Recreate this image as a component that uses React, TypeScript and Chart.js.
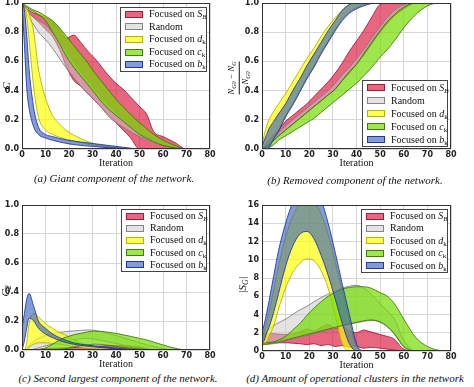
import React, { useEffect, useRef } from 'react';
import { Chart, registerables } from 'chart.js';
Chart.register(...registerables);

// ---------- data ----------
const ITER = [0, 1, 2, 3, 5, 7, 10, 13, 16, 19, 22, 25, 28, 31, 34, 37, 40, 43, 46, 50, 53, 56, 60, 65, 70, 75, 80];
const SERIES_LABELS = ['S_B', 'Random', 'd_k', 'c_k', 'b_k'];
const X_TICK_STEP = 10;

// (a) giant component C
const aRedHi = [1.0, 0.98, 0.96, 0.95, 0.93, 0.92, 0.9, 0.87, 0.82, 0.76, 0.78, 0.73, 0.67, 0.62, 0.56, 0.5, 0.45, 0.41, 0.36, 0.29, 0.24, 0.12, 0.085, 0.045, 0, 0, 0];
const aRedLo = [1.0, 0.97, 0.95, 0.93, 0.9, 0.87, 0.82, 0.77, 0.68, 0.56, 0.47, 0.43, 0.38, 0.33, 0.28, 0.23, 0.18, 0.13, 0.08, 0, 0, 0, 0, 0, 0, 0, 0];
const aGrayHi = [1.0, 0.97, 0.95, 0.93, 0.9, 0.88, 0.85, 0.8, 0.74, 0.67, 0.6, 0.53, 0.47, 0.41, 0.35, 0.3, 0.25, 0.2, 0.16, 0.11, 0.085, 0.06, 0.035, 0.012, 0, 0, 0];
const aGrayLo = [1.0, 0.96, 0.93, 0.9, 0.85, 0.8, 0.75, 0.69, 0.62, 0.55, 0.49, 0.43, 0.38, 0.33, 0.28, 0.22, 0.18, 0.15, 0.12, 0.085, 0.065, 0.045, 0.025, 0.008, 0, 0, 0];
const aYellowHi = [1.0, 0.98, 0.96, 0.93, 0.8, 0.55, 0.35, 0.23, 0.17, 0.125, 0.095, 0.07, 0.05, 0.035, 0.024, 0.016, 0.01, 0.005, 0.002, 0, 0, 0, 0, 0, 0, 0, 0];
const aYellowLo = [1.0, 0.97, 0.9, 0.75, 0.42, 0.22, 0.13, 0.1, 0.08, 0.065, 0.055, 0.045, 0.035, 0.026, 0.018, 0.011, 0.005, 0.002, 0, 0, 0, 0, 0, 0, 0, 0, 0];
const aGreenHi = [1.0, 0.99, 0.98, 0.97, 0.95, 0.94, 0.91, 0.88, 0.83, 0.77, 0.71, 0.65, 0.59, 0.52, 0.46, 0.4, 0.34, 0.29, 0.24, 0.18, 0.14, 0.1, 0.06, 0.025, 0, 0, 0];
const aGreenLo = [1.0, 0.98, 0.97, 0.96, 0.94, 0.92, 0.88, 0.8, 0.72, 0.63, 0.56, 0.5, 0.44, 0.38, 0.32, 0.27, 0.23, 0.19, 0.15, 0.1, 0.075, 0.05, 0.025, 0.008, 0, 0, 0];
const aBlueHi = [1.0, 0.95, 0.78, 0.55, 0.28, 0.15, 0.1, 0.085, 0.072, 0.062, 0.054, 0.048, 0.042, 0.036, 0.03, 0.024, 0.018, 0.012, 0.006, 0, 0, 0, 0, 0, 0, 0, 0];
const aBlueLo = [1.0, 0.72, 0.42, 0.28, 0.15, 0.1, 0.075, 0.06, 0.048, 0.038, 0.03, 0.025, 0.02, 0.016, 0.012, 0.009, 0.006, 0.004, 0.002, 0, 0, 0, 0, 0, 0, 0, 0];

// (b) removed component
const bRedHi = [0, 0.02, 0.04, 0.06, 0.1, 0.13, 0.19, 0.23, 0.27, 0.31, 0.36, 0.41, 0.46, 0.52, 0.59, 0.67, 0.74, 0.81, 0.89, 0.99, 1, 1, 1, 1, 1, 1, 1];
const bRedLo = [0, 0.01, 0.02, 0.03, 0.06, 0.09, 0.13, 0.17, 0.21, 0.25, 0.29, 0.33, 0.37, 0.41, 0.47, 0.52, 0.58, 0.64, 0.71, 0.8, 0.86, 0.91, 0.96, 1, 1, 1, 1];
const bGrayHi = [0, 0.015, 0.03, 0.045, 0.08, 0.11, 0.16, 0.2, 0.24, 0.28, 0.32, 0.36, 0.4, 0.45, 0.51, 0.56, 0.62, 0.68, 0.75, 0.84, 0.9, 0.95, 0.99, 1, 1, 1, 1];
const bGrayLo = [0, 0.01, 0.02, 0.03, 0.06, 0.09, 0.13, 0.17, 0.21, 0.25, 0.29, 0.33, 0.37, 0.41, 0.47, 0.53, 0.58, 0.65, 0.72, 0.81, 0.87, 0.92, 0.97, 1, 1, 1, 1];
const bYellowHi = [0.02, 0.1, 0.16, 0.2, 0.26, 0.31, 0.38, 0.46, 0.54, 0.62, 0.69, 0.77, 0.84, 0.9, 0.95, 0.99, 1, 1, 1, 1, 1, 1, 1, 1, 1, 1, 1];
const bYellowLo = [0, 0, 0, 0.02, 0.08, 0.13, 0.23, 0.31, 0.4, 0.49, 0.57, 0.66, 0.74, 0.82, 0.89, 0.94, 0.97, 0.99, 1, 1, 1, 1, 1, 1, 1, 1, 1];
const bGreenHi = [0, 0.01, 0.02, 0.03, 0.06, 0.09, 0.13, 0.17, 0.21, 0.25, 0.29, 0.33, 0.37, 0.41, 0.47, 0.53, 0.58, 0.65, 0.72, 0.81, 0.87, 0.92, 0.97, 1, 1, 1, 1];
const bGreenLo = [0, 0, 0, 0.01, 0.03, 0.06, 0.09, 0.12, 0.15, 0.18, 0.21, 0.25, 0.29, 0.33, 0.37, 0.41, 0.45, 0.5, 0.55, 0.63, 0.68, 0.74, 0.83, 0.92, 0.98, 1, 1];
const bBlueHi = [0.02, 0.06, 0.1, 0.14, 0.19, 0.24, 0.31, 0.4, 0.48, 0.57, 0.65, 0.73, 0.81, 0.88, 0.95, 0.99, 1, 1, 1, 1, 1, 1, 1, 1, 1, 1, 1];
const bBlueLo = [0, 0, 0, 0.01, 0.07, 0.12, 0.22, 0.3, 0.39, 0.48, 0.56, 0.65, 0.73, 0.81, 0.88, 0.93, 0.96, 0.98, 0.995, 1, 1, 1, 1, 1, 1, 1, 1];

// (c) second largest component C2
const cRedHi = [0, 0, 0, 0, 0, 0.005, 0.01, 0.012, 0.013, 0.015, 0.017, 0.02, 0.023, 0.026, 0.028, 0.03, 0.03, 0.03, 0.028, 0.022, 0.01, 0, 0, 0, 0, 0, 0];
const cRedLo = [0, 0, 0, 0, 0, 0, 0, 0, 0, 0, 0, 0, 0, 0, 0, 0, 0, 0, 0, 0, 0, 0, 0, 0, 0, 0, 0];
const cGrayHi = [0, 0, 0.01, 0.03, 0.06, 0.08, 0.1, 0.113, 0.122, 0.128, 0.132, 0.136, 0.138, 0.135, 0.125, 0.113, 0.1, 0.085, 0.07, 0.05, 0.036, 0.024, 0.01, 0, 0, 0, 0];
const cGrayLo = [0, 0, 0, 0, 0.005, 0.015, 0.028, 0.04, 0.05, 0.06, 0.07, 0.078, 0.08, 0.075, 0.065, 0.055, 0.045, 0.035, 0.025, 0.015, 0.008, 0.003, 0, 0, 0, 0, 0];
const cYellowHi = [0, 0, 0.05, 0.18, 0.25, 0.23, 0.18, 0.15, 0.12, 0.1, 0.07, 0.05, 0.035, 0.025, 0.018, 0.012, 0.008, 0.005, 0.002, 0, 0, 0, 0, 0, 0, 0, 0];
const cYellowLo = [0, 0, 0, 0.02, 0.04, 0.05, 0.05, 0.045, 0.04, 0.032, 0.025, 0.018, 0.012, 0.008, 0.005, 0.003, 0.001, 0, 0, 0, 0, 0, 0, 0, 0, 0, 0];
const cGreenHi = [0, 0, 0, 0, 0, 0, 0.015, 0.04, 0.07, 0.09, 0.105, 0.115, 0.125, 0.13, 0.128, 0.122, 0.115, 0.105, 0.095, 0.08, 0.07, 0.055, 0.035, 0.013, 0, 0, 0];
const cGreenLo = [0, 0, 0, 0, 0, 0, 0, 0, 0.005, 0.01, 0.02, 0.028, 0.035, 0.04, 0.038, 0.032, 0.025, 0.018, 0.012, 0.007, 0.004, 0.002, 0, 0, 0, 0, 0];
const cBlueHi = [0.15, 0.25, 0.35, 0.39, 0.3, 0.2, 0.15, 0.11, 0.085, 0.065, 0.05, 0.04, 0.034, 0.028, 0.023, 0.018, 0.013, 0.009, 0.005, 0.002, 0, 0, 0, 0, 0, 0, 0];
const cBlueLo = [0, 0.06, 0.15, 0.22, 0.2, 0.15, 0.11, 0.085, 0.065, 0.05, 0.04, 0.032, 0.026, 0.021, 0.016, 0.012, 0.008, 0.005, 0.002, 0, 0, 0, 0, 0, 0, 0, 0];

// (d) operational clusters |S_G|
const dRedHi = [1.9, 1.9, 1.9, 1.9, 1.9, 1.85, 1.8, 1.9, 2.1, 2.4, 2.2, 2.6, 2.9, 2.5, 2.7, 2.2, 2.0, 2.3, 2.1, 1.8, 1.6, 1.3, 0.2, 0, 0, 0, 0];
const dRedLo = [0.9, 0.9, 0.9, 0.9, 0.9, 0.9, 0.9, 0.85, 0.8, 0.7, 0.8, 0.6, 0.7, 0.5, 0.6, 0.4, 0.5, 0.3, 0.4, 0.3, 0.2, 0.1, 0, 0, 0, 0, 0];
const dGrayHi = [1.0, 1.7, 2.1, 2.4, 2.8, 3.1, 3.5, 4.0, 4.5, 4.9, 5.4, 5.85, 6.25, 6.6, 6.9, 7.1, 7.2, 6.9, 6.3, 5.2, 4.4, 3.5, 1.2, 0, 0, 0, 0];
const dGrayLo = [0.7, 0.7, 0.72, 0.75, 0.8, 0.9, 1.1, 1.3, 1.5, 1.7, 1.9, 2.1, 2.3, 2.5, 2.7, 2.9, 3.1, 3.25, 3.35, 3.15, 2.65, 1.85, 0.45, 0, 0, 0, 0];
const dYellowHi = [1.5, 2.3, 3.3, 4.3, 6.8, 9.3, 12.5, 14.8, 16.2, 16.8, 16.4, 15, 12.8, 9.8, 6.5, 3.3, 0.5, 0, 0, 0, 0, 0, 0, 0, 0, 0, 0];
const dYellowLo = [0.7, 0.8, 1.0, 1.6, 2.8, 4.6, 6.9, 8.6, 9.6, 10.1, 9.9, 8.8, 6.9, 3.9, 0.8, 0, 0, 0, 0, 0, 0, 0, 0, 0, 0, 0, 0];
const dGreenHi = [0.8, 0.85, 0.9, 0.95, 1.0, 1.2, 1.6, 2.3, 3.0, 3.9, 4.7, 5.4, 6.0, 6.45, 6.8, 6.95, 7.05, 7.05, 6.9, 6.4, 6.0, 5.2, 3.5, 1.5, 0.5, 0.07, 0];
const dGreenLo = [0.7, 0.7, 0.75, 0.8, 0.9, 1.0, 1.2, 1.4, 1.6, 1.8, 2.0, 2.2, 2.4, 2.6, 2.8, 3.0, 3.15, 3.3, 3.4, 3.2, 2.7, 1.9, 0.5, 0, 0, 0, 0];
const dBlueHi = [2.0, 3.0, 4.2, 5.5, 8.3, 11, 14, 16.3, 17.8, 18.3, 17.9, 16.6, 14, 10.8, 7.3, 4, 0.8, 0, 0, 0, 0, 0, 0, 0, 0, 0, 0];
const dBlueLo = [0.8, 1.2, 2.0, 2.6, 4.3, 6.3, 9.3, 11.5, 12.8, 13.1, 12.3, 10.5, 8.3, 5.7, 3.0, 0.8, 0, 0, 0, 0, 0, 0, 0, 0, 0, 0, 0];

// ---------- styles ----------
const FILLS = ['rgba(222,30,70,0.68)', 'rgba(200,200,200,0.5)', 'rgba(255,255,0,0.68)', 'rgba(115,220,0,0.7)', 'rgba(55,95,185,0.62)'];
const EDGES = ['rgba(150,20,50,0.9)', 'rgba(120,120,120,0.9)', 'rgba(170,170,0,0.9)', 'rgba(60,110,10,0.9)', 'rgba(30,50,170,0.95)'];
const SERIF = '"Liberation Serif", "DejaVu Serif", serif';
const SANS = '"DejaVu Sans", sans-serif';

const YW = 22;
const PT = 8;
const PR = 8;
const XH = 20;

const framePlugin = {
  id: 'frame',
  afterDraw(chart: any) {
    const { ctx, chartArea } = chart;
    const { left, top, right, bottom } = chartArea;
    ctx.save();
    ctx.strokeStyle = '#333';
    ctx.lineWidth = 1;
    ctx.strokeRect(Math.round(left) + 0.5, Math.round(top) + 0.5, Math.round(right - left) - 1, Math.round(bottom - top) - 1);
    ctx.restore();
  },
};

type PanelProps = {
  rect: [number, number, number, number];
  bands: [number[], number[]][]; // bottom -> top order, [lo, hi]
  yMax: number;
  yStep: number;
  decimals: number;
};

function Panel({ rect, bands, yMax, yStep, decimals }: PanelProps) {
  const ref = useRef<HTMLCanvasElement>(null);
  const [x0, y0, x1, y1] = rect;
  const W = x1 - x0 + YW + PR;
  const H = y1 - y0 + PT + XH;
  useEffect(() => {
    if (!ref.current) return;
    const datasets: any[] = [];
    for (let k = bands.length - 1; k >= 0; k--) {
      const [lo, hi] = bands[k];
      datasets.push({
        data: ITER.map((x, i) => ({ x, y: lo[i] })),
        borderColor: EDGES[k],
        borderWidth: 0.9,
        fill: false,
        pointRadius: 0,
        cubicInterpolationMode: 'monotone',
      });
      datasets.push({
        data: ITER.map((x, i) => ({ x, y: hi[i] })),
        borderColor: EDGES[k],
        borderWidth: 0.9,
        backgroundColor: FILLS[k],
        fill: '-1',
        pointRadius: 0,
        cubicInterpolationMode: 'monotone',
      });
    }
    const tickFont = { family: SANS, size: 8, weight: 'bold' };
    const chart = new Chart(ref.current, {
      type: 'line',
      data: { datasets },
      plugins: [framePlugin],
      options: {
        responsive: false,
        animation: false,
        devicePixelRatio: 1,
        layout: { padding: { left: 0, top: PT, right: PR, bottom: 0 } },
        plugins: { legend: { display: false }, tooltip: { enabled: false }, title: { display: false } },
        scales: {
          x: {
            type: 'linear',
            min: 0,
            max: 80,
            ticks: { stepSize: X_TICK_STEP, font: tickFont, color: '#222', padding: 1, maxRotation: 0, autoSkip: false },
            grid: { color: '#d6d6d6', drawTicks: false },
            border: { display: false },
            title: { display: true, text: 'Iteration', font: { family: SERIF, size: 10 }, color: '#111', padding: 0 },
            afterFit: (s: any) => { s.height = XH; },
          },
          y: {
            type: 'linear',
            min: 0,
            max: yMax,
            ticks: {
              stepSize: yStep,
              font: tickFont,
              color: '#222',
              padding: 3,
              autoSkip: false,
              callback: (v: any) => Number(v).toFixed(decimals),
            },
            grid: { color: '#d6d6d6', drawTicks: false },
            border: { display: false },
            afterFit: (s: any) => { s.width = YW; },
          },
        },
      } as any,
    });
    return () => chart.destroy();
  }, []);
  return (
    <canvas
      ref={ref}
      width={W}
      height={H}
      style={{ position: 'absolute', left: x0 - YW, top: y0 - PT, width: W, height: H }}
    />
  );
}

function LegendBox({ left, top, width, height }: { left: number; top: number; width: number; height: number }) {
  const rowH = (height - 2) / 5;
  const labels = [
    <>Focused on <i>S</i><sub style={{ fontSize: '0.7em', verticalAlign: '-0.3em', fontStyle: 'italic' }}>B</sub></>,
    <>Random</>,
    <>Focused on <i>d</i><sub style={{ fontSize: '0.7em', verticalAlign: '-0.3em' }}>k</sub></>,
    <>Focused on <i>c</i><sub style={{ fontSize: '0.7em', verticalAlign: '-0.3em' }}>k</sub></>,
    <>Focused on <i>b</i><sub style={{ fontSize: '0.7em', verticalAlign: '-0.3em' }}>k</sub></>,
  ];
  return (
    <div
      style={{
        position: 'absolute', left, top, width, height, boxSizing: 'border-box',
        border: '1px solid #444', background: '#fff', fontFamily: SERIF, fontSize: 10, color: '#111',
      }}
    >
      {SERIES_LABELS.map((key, k) => (
        <div key={key} style={{ position: 'absolute', left: 0, top: k * rowH, height: rowH, width: '100%' }}>
          <div
            style={{
              position: 'absolute', left: 4, top: rowH / 2 - 3.5, width: 18, height: 7, boxSizing: 'border-box',
              background: FILLS[k], border: `1px solid ${EDGES[k]}`,
            }}
          />
          <div style={{ position: 'absolute', left: 28, top: 0, height: rowH, lineHeight: `${rowH}px`, whiteSpace: 'nowrap' }}>
            {labels[k]}
          </div>
        </div>
      ))}
    </div>
  );
}

function Caption({ cx, cy, text }: { cx: number; cy: number; text: string }) {
  return (
    <div
      style={{
        position: 'absolute', left: cx - 130, top: cy - 7, width: 260, height: 14, lineHeight: '14px',
        textAlign: 'center', fontFamily: SERIF, fontStyle: 'italic', fontSize: 11, color: '#111', whiteSpace: 'nowrap',
      }}
    >
      {text}
    </div>
  );
}

function YLabel({ cx, cy, children }: { cx: number; cy: number; children: React.ReactNode }) {
  return (
    <div
      style={{
        position: 'absolute', left: cx, top: cy, transform: 'translate(-50%, -50%) rotate(-90deg)',
        fontFamily: SERIF, fontStyle: 'italic', fontSize: 11, color: '#111', whiteSpace: 'nowrap', lineHeight: 1,
      }}
    >
      {children}
    </div>
  );
}

const subSt: React.CSSProperties = { fontSize: '0.7em', verticalAlign: '-0.3em' };

export default function App() {
  return (
    <div style={{ position: 'fixed', left: 0, top: 0, width: 474, height: 387, background: '#fff', overflow: 'hidden' }}>
      <Panel
        rect={[22, 3, 210, 149]}
        bands={[[aRedLo, aRedHi], [aGrayLo, aGrayHi], [aYellowLo, aYellowHi], [aGreenLo, aGreenHi], [aBlueLo, aBlueHi]]}
        yMax={1}
        yStep={0.2}
        decimals={1}
      />
      <Panel
        rect={[262, 3, 451, 149]}
        bands={[[bRedLo, bRedHi], [bGrayLo, bGrayHi], [bYellowLo, bYellowHi], [bGreenLo, bGreenHi], [bBlueLo, bBlueHi]]}
        yMax={1}
        yStep={0.2}
        decimals={1}
      />
      <Panel
        rect={[22, 205, 210, 350]}
        bands={[[cRedLo, cRedHi], [cGrayLo, cGrayHi], [cYellowLo, cYellowHi], [cGreenLo, cGreenHi], [cBlueLo, cBlueHi]]}
        yMax={1}
        yStep={0.2}
        decimals={1}
      />
      <Panel
        rect={[262, 205, 451, 351]}
        bands={[[dRedLo, dRedHi], [dGrayLo, dGrayHi], [dYellowLo, dYellowHi], [dGreenLo, dGreenHi], [dBlueLo, dBlueHi]]}
        yMax={16}
        yStep={2}
        decimals={0}
      />

      <LegendBox left={120} top={7} width={87} height={65} />
      <LegendBox left={362} top={80} width={86} height={67} />
      <LegendBox left={121} top={209} width={86} height={63} />
      <LegendBox left={361} top={209} width={87} height={64} />

      <YLabel cx={6} cy={86}>C</YLabel>
      <YLabel cx={6} cy={291}>C<sub style={subSt}>2</sub></YLabel>
      <YLabel cx={243} cy={285}>|S<sub style={subSt}>G</sub>|</YLabel>
      <div
        style={{
          position: 'absolute', left: 239, top: 78, transform: 'translate(-50%, -50%) rotate(-90deg)',
          fontFamily: SERIF, fontStyle: 'italic', fontSize: 8.5, color: '#111', textAlign: 'center', lineHeight: 1, whiteSpace: 'nowrap',
        }}
      >
        <div style={{ borderBottom: '0.8px solid #111', paddingBottom: 1 }}>
          N<sub style={subSt}>G0</sub> − N<sub style={subSt}>G</sub>
        </div>
        <div style={{ paddingTop: 1 }}>
          N<sub style={subSt}>G0</sub>
        </div>
      </div>

      <Caption cx={114} cy={178} text="(a) Giant component of the network." />
      <Caption cx={355} cy={180} text="(b) Removed component of the network." />
      <Caption cx={118} cy={378} text="(c) Second largest component of the network." />
      <Caption cx={355} cy={378} text="(d) Amount of operational clusters in the network" />
    </div>
  );
}
